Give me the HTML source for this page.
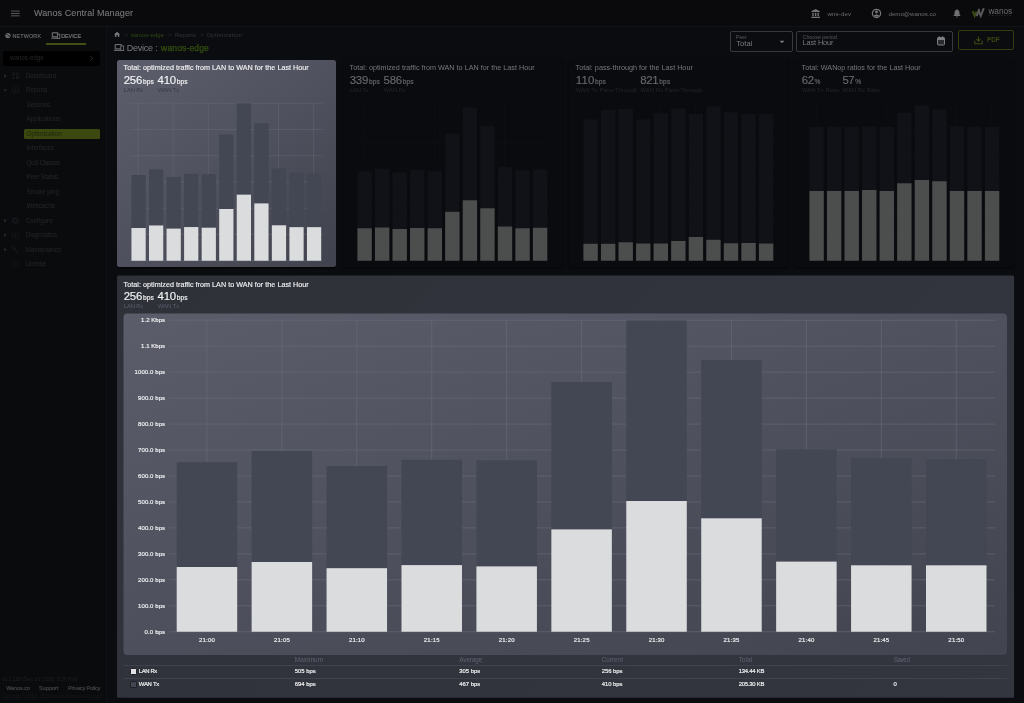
<!DOCTYPE html>
<html lang="en">
<head>
<meta charset="utf-8">
<title>Wanos Central Manager</title>
<style>
*{box-sizing:border-box;margin:0;padding:0}
html,body{width:1024px;height:703px;overflow:hidden;background:#0b0c10;font-family:"Liberation Sans",sans-serif;color:#888}
body{position:relative}
div{position:absolute;white-space:nowrap}
svg{position:absolute;left:0;top:0}
#topbar{left:0;top:0;width:1024px;height:27.4px;background:#0a0a0d;border-bottom:1px solid #121317}
#sidebar{left:0;top:27.4px;width:107px;height:676px;background:#0a0b0d;border-right:1px solid #111215}
.t{line-height:12px}
.brand{font-size:9px;color:#787878;-webkit-text-stroke:.1px #787878}
.tt{font-size:6.15px;color:#6e6e6e}
.tab{font-size:5.4px;-webkit-text-stroke:.15px}
.tabline{left:46px;top:43.3px;width:40.3px;height:1.5px;background:#424f12}
.search{left:3.1px;top:50.6px;width:96.9px;height:15px;background:#000;border-radius:2px}
.srch{font-size:6.3px;color:#26262b}
.nav{font-size:6.3px;color:#25262b}
.nav.sel{color:#1f260b}
.navsel{left:23.7px;width:76.1px;height:10px;background:#3b4810;border-radius:1.5px}
.navico rect{fill:#15161b}
.navico .ol{fill:none;stroke:#15161b;stroke-width:.8}
.navico .ol2{fill:none;stroke:#15161b;stroke-width:1.6}
.navico .ar{fill:#26282e}
.foot{font-size:5.6px;color:#1e1f25}
.footb{font-size:5.5px;color:#434345;-webkit-text-stroke:.2px}
.crumb{font-size:5.9px;color:#34353a}
.crumb.g{color:#2f4a10}
.crumb.s{color:#303136}
.title{font-size:9px;color:#78797d}
.title.g{color:#34500f;font-size:8.6px;-webkit-text-stroke:.25px #34500f}
.fld{border:1px solid #38393e;border-radius:2px;height:21.8px;top:30.5px}
.fl{font-size:5.4px;color:#55565a}
.fv{font-size:7.3px;color:#79797d}
.pdf{left:958.2px;top:30.2px;width:56px;height:19.5px;border:1px solid #333d0e;border-radius:2px}
.pdft{color:#3b4710;font-size:6.5px;font-weight:bold}
.card{top:59.5px;width:219px;height:207.5px;border-radius:2.5px}
.card.on{background:linear-gradient(140deg,#5c5e6c 0%,#4f515e 50%,#40434d 100%)}
.card.off{background:#0a0b0e;box-shadow:0 1px 3px rgba(0,0,0,.6)}
.ct{font-size:7.2px;color:#78797d}
.cv{font-size:11.4px;color:#67686c;line-height:14px;-webkit-text-stroke:.15px}
.cu{font-size:6.6px;color:#67686c;line-height:10px;-webkit-text-stroke:.15px}
.cl{font-size:5.9px;color:#24252a;line-height:8px}
.ct.on,.ct.pn{color:#f1f1f3;-webkit-text-stroke:.15px #f1f1f3}
.cv.on,.cu.on,.cv.pn,.cu.pn{color:#f4f4f6}
.cl.on{color:#393b45}
.cl.pn{color:#5a5d6b}
.grid line{stroke:#111217;stroke-width:.5}
.g1 .grid line{stroke:#6c6e7b;stroke-width:.4}
.hi rect{fill:#111217}
.lo rect{fill:#4c4e4d}
.g1 .hi rect{fill:#424753}
.g1 .lo rect{fill:#dbdcde}
#panel{left:117px;top:275.2px;width:897px;height:422.3px;background:linear-gradient(135deg,#2e3138 0%,#31343c 50%,#35383f 100%);border-radius:1.5px}
#cbox{left:123.5px;top:313.2px;width:883.5px;height:341.3px;border-radius:4px;background:linear-gradient(162deg,#5b5d6a 0%,#4e515d 50%,#42454f 100%)}
.mgrid line{stroke:#696c79;stroke-width:.6}
.mhi rect{fill:#424753}
.mlo rect{fill:#dbdcde}
.ax{font-size:6px;line-height:10px;color:#f0f0f2;-webkit-text-stroke:.18px #f0f0f2}
.lh{font-size:6.3px;line-height:8px;color:#606373}
.lr{font-size:5.9px;line-height:10px;color:#f0f0f2;-webkit-text-stroke:.18px #f0f0f2}
.sep{left:123.5px;width:883.5px;height:1px;background:#40434c}
.sw{left:130.3px;width:7.1px;height:7.4px;border-radius:1.3px;border:.8px solid #1d1f25}
</style>
</head>
<body>
<div id="topbar"></div>
<svg width="1024" height="27" viewBox="0 0 1024 27">
  <g fill="#727272"><rect x="11" y="10.7" width="8.6" height=".75"/><rect x="11" y="13.1" width="8.6" height=".75"/><rect x="11" y="15.5" width="8.6" height=".75"/></g>
  <g fill="#747474">
    <path d="M811.3 11.3 L815.6 8.9 L819.9 11.3 L819.9 12 L811.3 12 Z"/>
    <rect x="812.3" y="12.8" width="1.4" height="3.2"/><rect x="814.9" y="12.8" width="1.4" height="3.2"/><rect x="817.5" y="12.8" width="1.4" height="3.2"/>
    <rect x="811.3" y="16.7" width="8.6" height="1.3"/>
  </g>
  <circle cx="876.5" cy="13.4" r="4.1" fill="none" stroke="#747474" stroke-width="1.3"/>
  <circle cx="876.5" cy="12" r="1.4" fill="#787878"/>
  <path d="M873.7 15.7 Q876.5 13.5 879.3 15.7 Q876.5 17.8 873.7 15.7Z" fill="#787878"/>
  <path d="M953.6 16 L953.6 15.5 L954.5 14.6 L954.5 12.4 Q954.5 10.4 956.3 10 L956.3 9.6 Q957 9 957.7 9.6 L957.7 10 Q959.5 10.4 959.5 12.4 L959.5 14.6 L960.4 15.5 L960.4 16 Z M956.1 16.6 L957.9 16.6 Q957.9 17.6 957 17.6 Q956.1 17.6 956.1 16.6Z" fill="#707070"/>
  <g fill="none" stroke-width="2" stroke-linejoin="miter">
    <path d="M972.6 11.2 L974.6 15.9 L976.4 11.6" stroke="#3a4812"/>
    <path d="M976.6 16.2 L979.4 8.8" stroke="#5a5a5a"/>
    <path d="M978.8 11.2 L980.8 15.9 L983.8 8.2" stroke="#5a5a5a"/>
  </g>
</svg>
<div id="sidebar"></div>
<svg width="107" height="70" viewBox="0 0 107 70">
  <circle cx="7.9" cy="35.6" r="2.7" fill="#666"/>
  <path d="M6.2 34.6 Q7.6 34 8.2 35.4 Q9 36.6 10 36.2" stroke="#0a0b0d" stroke-width=".7" fill="none"/>
  <path d="M52.3 32.8 h5.6 v4 h-5.6 z M51.3 38.2 h6" fill="none" stroke="#7d7d7d" stroke-width="1"/>
  <rect x="57.3" y="34.2" width="2.5" height="4.3" fill="#0a0b0d" stroke="#7d7d7d" stroke-width=".8"/>
</svg>
<div class="tabline"></div>
<div class="search"></div>
<div class="t brand" style="left:34px;top:6.9px;letter-spacing:0.089px">Wanos Central Manager</div><div class="t tt" style="left:827.5px;top:7.5px;letter-spacing:0.121px">wns-dev</div><div class="t tt" style="left:888.5px;top:7.5px;letter-spacing:-0.004px">demo@wanos.co</div><div class="t" style="left:988.4px;top:4.6px;font-size:8.3px;color:#6c6c6c;letter-spacing:-0.046px">wanos</div><div class="t" style="left:988.8px;top:13.9px;font-size:2.4px;color:#454545;letter-spacing:1.22px;line-height:4px">NETWORKS</div><div class="t tab" style="left:12.5px;top:30px;color:#6c6c6c;letter-spacing:0.156px">NETWORK</div><div class="t tab" style="left:61.25px;top:30px;color:#7d7d7d;letter-spacing:-0.066px">DEVICE</div><div class="t srch" style="left:10px;top:52.2px;letter-spacing:-0.062px">wanos-edge</div>
<svg width="107" height="70" viewBox="0 0 107 70"><path d="M90.2 56.1 L92.6 58.4 L90.2 60.7" fill="none" stroke="#303035" stroke-width=".9"/></svg>
<svg class="navico" width="107" height="300" viewBox="0 0 107 300"><rect x="12.2" y="72.5" width="2.9" height="3.6"/><rect x="12.2" y="76.9" width="2.9" height="2.2"/><rect x="15.9" y="72.5" width="2.9" height="2.2"/><rect x="15.9" y="75.5" width="2.9" height="3.6"/><path class="ar" d="M4 73.9 L6.7 75.8 L4 77.7 Z"/><rect class="ol" x="12.3" y="86.8" width="6.2" height="6.2" rx=".6"/><rect x="13.8" y="89.3" width=".9" height="2.6"/><rect x="15" y="88.1" width=".9" height="3.8"/><rect x="16.2" y="90.1" width=".9" height="1.8"/><path class="ar" d="M3.4 89.2 L7.2 89.2 L5.3 91.4 Z"/><circle class="ol2" cx="15.4" cy="220.6" r="2.5"/><circle class="ol" cx="15.4" cy="220.6" r="1"/><path class="ar" d="M4 218.7 L6.7 220.6 L4 222.5 Z"/><rect class="ol" x="12.3" y="232" width="6.2" height="6.2" rx=".6"/><rect x="13.8" y="234.5" width=".9" height="2.6"/><rect x="15" y="233.3" width=".9" height="3.8"/><rect x="16.2" y="235.3" width=".9" height="1.8"/><path class="ar" d="M4 233.2 L6.7 235.1 L4 237 Z"/><path class="ol2" d="M12.6 247.1 L18.2 252.7"/><circle class="ol" cx="12.9" cy="247.3" r="1.4"/><path class="ar" d="M4 247.8 L6.7 249.7 L4 251.6 Z"/><rect x="12.4" y="261.1" width="1.3" height="1.3"/><rect x="12.4" y="263.4" width="1.3" height="1.3"/><rect x="12.4" y="265.7" width="1.3" height="1.3"/><rect x="14.7" y="261.1" width="1.3" height="1.3"/><rect x="14.7" y="263.4" width="1.3" height="1.3"/><rect x="14.7" y="265.7" width="1.3" height="1.3"/><rect x="17" y="261.1" width="1.3" height="1.3"/><rect x="17" y="263.4" width="1.3" height="1.3"/><rect x="17" y="265.7" width="1.3" height="1.3"/></svg>
<div class="t nav" style="left:25.7px;top:69.8px;letter-spacing:-0.014px">Dashboard</div><div class="t nav" style="left:25.7px;top:83.9px;letter-spacing:-0.077px">Reports</div><div class="t nav" style="left:26.5px;top:98.5px;letter-spacing:-0.295px">Sessions</div><div class="t nav" style="left:26.5px;top:113.1px;letter-spacing:-0.015px">Applications</div><div class="navsel" style="top:128.8px"></div><div class="t nav sel" style="left:26.5px;top:127.6px;letter-spacing:0.027px">Optimization</div><div class="t nav" style="left:26.5px;top:142.2px;letter-spacing:-0.040px">Interfaces</div><div class="t nav" style="left:26.5px;top:156.8px;letter-spacing:-0.325px">QoS Classes</div><div class="t nav" style="left:26.5px;top:171.3px;letter-spacing:-0.141px">Peer Status</div><div class="t nav" style="left:26.5px;top:185.8px;letter-spacing:-0.085px">Smoke ping</div><div class="t nav" style="left:26.5px;top:200.3px;letter-spacing:-0.163px">Webcache</div><div class="t nav" style="left:25.7px;top:214.6px;letter-spacing:-0.039px">Configure</div><div class="t nav" style="left:25.7px;top:229.1px;letter-spacing:-0.106px">Diagnostics</div><div class="t nav" style="left:25.7px;top:243.7px;letter-spacing:-0.031px">Maintenance</div><div class="t nav" style="left:25.7px;top:258.1px;letter-spacing:-0.245px">License</div>
<div class="t foot" style="left:1.9px;top:672.9px;letter-spacing:-0.253px">v1.1.118 (Sep 10, 2020, 5:36 PM)</div><div class="t footb" style="left:6.2px;top:681.7px;letter-spacing:-0.081px">Wanos.co</div><div class="t footb" style="left:39.1px;top:681.7px;letter-spacing:0.022px">Support</div><div class="t footb" style="left:68.1px;top:681.7px;letter-spacing:-0.156px">Privacy Policy</div><div class="t foot" style="left:1.9px;top:690.2px;font-size:5.2px;color:#17181d;letter-spacing:-0.383px">Copyright © 2013 - 2019 Wanos Networks Pty (Ltd)</div>
<svg width="140" height="60" viewBox="0 0 140 60">
  <path d="M114 34.6 L117.1 31.8 L120.2 34.6 L119.3 34.6 L119.3 37.1 L117.9 37.1 L117.9 35.3 L116.3 35.3 L116.3 37.1 L114.9 37.1 L114.9 34.6 Z" fill="#767676"/>
  <path d="M115.2 44.6 h6.2 v4.3 h-6.2 z M113.8 50.3 h7.6" fill="none" stroke="#78797d" stroke-width="1"/>
  <rect x="120.8" y="46" width="2.9" height="4.6" fill="#0b0c10" stroke="#78797d" stroke-width=".8"/>
</svg>
<div class="t crumb s" style="left:124.4px;top:28.9px">&gt;</div><div class="t crumb g" style="left:130.7px;top:28.9px;letter-spacing:0.134px">wanos-edge</div><div class="t crumb s" style="left:168.2px;top:28.9px">&gt;</div><div class="t crumb" style="left:174.9px;top:28.9px;letter-spacing:0.060px">Reports</div><div class="t crumb s" style="left:200.2px;top:28.9px">&gt;</div><div class="t crumb" style="left:206.4px;top:28.9px;letter-spacing:0.259px">Optimization</div><div class="t title" style="left:126.7px;top:41.5px;letter-spacing:-0.217px">Device :</div><div class="t title g" style="left:161.1px;top:41.5px;letter-spacing:0.097px">wanos-edge</div><div class="t fl" style="left:735.8px;top:31.2px;letter-spacing:-0.164px">Peer</div><div class="t fv" style="left:736.3px;top:38.1px;font-size:7.6px;letter-spacing:-0.012px">Total</div><div class="t fl" style="left:802.6px;top:31.2px;letter-spacing:-0.057px">Choose period</div><div class="t fv" style="left:802.6px;top:36.9px;letter-spacing:-0.105px">Last Hour</div><div class="t pdft" style="left:987px;top:34px;letter-spacing:-0.125px">PDF</div>
<div class="fld" style="left:730px;width:62.8px"></div>
<div class="fld" style="left:795.7px;width:157px"></div>
<div class="pdf"></div>
<svg width="1024" height="60" viewBox="0 0 1024 60">
  <path d="M779.5 40.8 L784.5 40.8 L782 43.3 Z" fill="#77787c"/>
  <rect x="937.5" y="37.6" width="7" height="7.4" rx="1" fill="#2a2b2f" stroke="#7d7e82" stroke-width="1"/>
  <rect x="937.5" y="37.6" width="7" height="2.4" fill="#7d7e82"/>
  <rect x="938.8" y="36.2" width="1" height="2" fill="#7d7e82"/><rect x="942.2" y="36.2" width="1" height="2" fill="#7d7e82"/>
  <path d="M978.5 36.4 v4.4 M976.5 39.2 L978.5 41.2 L980.5 39.2 M974.8 40.6 v3.2 h7.4 v-3.2" fill="none" stroke="#3d4911" stroke-width="1.1"/>
</svg>
<svg width="1024" height="703" viewBox="0 0 1024 703"><defs><linearGradient id="g1" gradientUnits="userSpaceOnUse" x1="130.29" y1="48.75" x2="322.71" y2="278.05"><stop offset="0" stop-color="#5c5e6c"/><stop offset="0.5" stop-color="#4f515e"/><stop offset="1" stop-color="#40434d"/></linearGradient></defs><rect x="117" y="61.5" width="219" height="207" rx="2.5" fill="#050508"/><rect x="117" y="59.9" width="219" height="207" rx="2.5" fill="url(#g1)"/></svg>
<div class="card off" style="left:343px"></div>
<div class="card off" style="left:569px"></div>
<div class="card off" style="left:795px"></div>
<svg width="1024" height="703" viewBox="0 0 1024 703">
<g class="g1">
<g class="grid">
<line x1="129.65" y1="103.25" x2="322.7" y2="103.25"/>
<line x1="129.65" y1="129.5" x2="322.7" y2="129.5"/>
<line x1="129.65" y1="155.75" x2="322.7" y2="155.75"/>
<line x1="129.65" y1="182" x2="322.7" y2="182"/>
<line x1="129.65" y1="208.25" x2="322.7" y2="208.25"/>
<line x1="129.65" y1="234.5" x2="322.7" y2="234.5"/>
<line x1="129.65" y1="260.75" x2="322.7" y2="260.75"/>
<line x1="138.17" y1="103.25" x2="138.17" y2="260.75"/>
<line x1="173.27" y1="103.25" x2="173.27" y2="260.75"/>
<line x1="208.37" y1="103.25" x2="208.37" y2="260.75"/>
<line x1="243.47" y1="103.25" x2="243.47" y2="260.75"/>
<line x1="278.58" y1="103.25" x2="278.58" y2="260.75"/>
<line x1="313.68" y1="103.25" x2="313.68" y2="260.75"/>
</g>
<g class="hi">
<rect x="131.45" y="175.02" width="14.25" height="52.99"/>
<rect x="149" y="169.36" width="14.25" height="56.12"/>
<rect x="166.55" y="176.94" width="14.25" height="51.67"/>
<rect x="184.1" y="173.81" width="14.25" height="53.24"/>
<rect x="201.65" y="174.11" width="14.25" height="53.6"/>
<rect x="219.2" y="134.52" width="14.25" height="74.48"/>
<rect x="236.75" y="103.38" width="14.25" height="91.26"/>
<rect x="254.3" y="123.35" width="14.25" height="80.04"/>
<rect x="271.85" y="168.5" width="14.25" height="56.78"/>
<rect x="289.4" y="172.9" width="14.25" height="54.25"/>
<rect x="306.95" y="173.51" width="14.25" height="53.65"/>
</g><g class="lo">
<rect x="131.45" y="228.01" width="14.25" height="32.74"/>
<rect x="149" y="225.48" width="14.25" height="35.27"/>
<rect x="166.55" y="228.62" width="14.25" height="32.13"/>
<rect x="184.1" y="227.05" width="14.25" height="33.7"/>
<rect x="201.65" y="227.71" width="14.25" height="33.04"/>
<rect x="219.2" y="209" width="14.25" height="51.75"/>
<rect x="236.75" y="194.64" width="14.25" height="66.11"/>
<rect x="254.3" y="203.39" width="14.25" height="57.36"/>
<rect x="271.85" y="225.28" width="14.25" height="35.47"/>
<rect x="289.4" y="227.15" width="14.25" height="33.6"/>
<rect x="306.95" y="227.15" width="14.25" height="33.6"/>
</g>
</g>
<g>
<g class="grid">
<line x1="355.6" y1="103.25" x2="548.8" y2="103.25"/>
<line x1="355.6" y1="122.94" x2="548.8" y2="122.94"/>
<line x1="355.6" y1="142.62" x2="548.8" y2="142.62"/>
<line x1="355.6" y1="162.31" x2="548.8" y2="162.31"/>
<line x1="355.6" y1="182" x2="548.8" y2="182"/>
<line x1="355.6" y1="201.69" x2="548.8" y2="201.69"/>
<line x1="355.6" y1="221.38" x2="548.8" y2="221.38"/>
<line x1="355.6" y1="241.06" x2="548.8" y2="241.06"/>
<line x1="355.6" y1="260.75" x2="548.8" y2="260.75"/>
<line x1="364.2" y1="103.25" x2="364.2" y2="260.75"/>
<line x1="399.3" y1="103.25" x2="399.3" y2="260.75"/>
<line x1="434.4" y1="103.25" x2="434.4" y2="260.75"/>
<line x1="469.5" y1="103.25" x2="469.5" y2="260.75"/>
<line x1="504.6" y1="103.25" x2="504.6" y2="260.75"/>
<line x1="539.7" y1="103.25" x2="539.7" y2="260.75"/>
</g>
<g class="hi">
<rect x="357.4" y="171.25" width="14.4" height="57"/>
<rect x="374.95" y="168.75" width="14.4" height="58.75"/>
<rect x="392.5" y="172.5" width="14.4" height="56.5"/>
<rect x="410.05" y="170" width="14.4" height="58"/>
<rect x="427.6" y="171.25" width="14.4" height="57"/>
<rect x="445.15" y="133.5" width="14.4" height="78.25"/>
<rect x="462.7" y="107.5" width="14.4" height="92.75"/>
<rect x="480.25" y="125.75" width="14.4" height="82.5"/>
<rect x="497.8" y="167" width="14.4" height="59.5"/>
<rect x="515.35" y="170.25" width="14.4" height="58"/>
<rect x="532.9" y="169.5" width="14.4" height="58.25"/>
</g><g class="lo">
<rect x="357.4" y="228.25" width="14.4" height="32.5"/>
<rect x="374.95" y="227.5" width="14.4" height="33.25"/>
<rect x="392.5" y="229" width="14.4" height="31.75"/>
<rect x="410.05" y="228" width="14.4" height="32.75"/>
<rect x="427.6" y="228.25" width="14.4" height="32.5"/>
<rect x="445.15" y="211.75" width="14.4" height="49"/>
<rect x="462.7" y="200.25" width="14.4" height="60.5"/>
<rect x="480.25" y="208.25" width="14.4" height="52.5"/>
<rect x="497.8" y="226.5" width="14.4" height="34.25"/>
<rect x="515.35" y="228.25" width="14.4" height="32.5"/>
<rect x="532.9" y="227.75" width="14.4" height="33"/>
</g>
</g>
<g>
<g class="grid">
<line x1="581.6" y1="103.25" x2="774.8" y2="103.25"/>
<line x1="581.6" y1="122.94" x2="774.8" y2="122.94"/>
<line x1="581.6" y1="142.62" x2="774.8" y2="142.62"/>
<line x1="581.6" y1="162.31" x2="774.8" y2="162.31"/>
<line x1="581.6" y1="182" x2="774.8" y2="182"/>
<line x1="581.6" y1="201.69" x2="774.8" y2="201.69"/>
<line x1="581.6" y1="221.38" x2="774.8" y2="221.38"/>
<line x1="581.6" y1="241.06" x2="774.8" y2="241.06"/>
<line x1="581.6" y1="260.75" x2="774.8" y2="260.75"/>
<line x1="590.2" y1="103.25" x2="590.2" y2="260.75"/>
<line x1="625.3" y1="103.25" x2="625.3" y2="260.75"/>
<line x1="660.4" y1="103.25" x2="660.4" y2="260.75"/>
<line x1="695.5" y1="103.25" x2="695.5" y2="260.75"/>
<line x1="730.6" y1="103.25" x2="730.6" y2="260.75"/>
<line x1="765.7" y1="103.25" x2="765.7" y2="260.75"/>
</g>
<g class="hi">
<rect x="583.4" y="119.25" width="14.4" height="124.5"/>
<rect x="600.95" y="110" width="14.4" height="133.75"/>
<rect x="618.5" y="109" width="14.4" height="133.25"/>
<rect x="636.05" y="119.25" width="14.4" height="124.25"/>
<rect x="653.6" y="113.25" width="14.4" height="130.25"/>
<rect x="671.15" y="108.5" width="14.4" height="132.5"/>
<rect x="688.7" y="114" width="14.4" height="123"/>
<rect x="706.25" y="106.5" width="14.4" height="133.25"/>
<rect x="723.8" y="112.25" width="14.4" height="131"/>
<rect x="741.35" y="114" width="14.4" height="129"/>
<rect x="758.9" y="114" width="14.4" height="129.5"/>
</g><g class="lo">
<rect x="583.4" y="243.75" width="14.4" height="17"/>
<rect x="600.95" y="243.75" width="14.4" height="17"/>
<rect x="618.5" y="242.25" width="14.4" height="18.5"/>
<rect x="636.05" y="243.5" width="14.4" height="17.25"/>
<rect x="653.6" y="243.5" width="14.4" height="17.25"/>
<rect x="671.15" y="241" width="14.4" height="19.75"/>
<rect x="688.7" y="237" width="14.4" height="23.75"/>
<rect x="706.25" y="239.75" width="14.4" height="21"/>
<rect x="723.8" y="243.25" width="14.4" height="17.5"/>
<rect x="741.35" y="243" width="14.4" height="17.75"/>
<rect x="758.9" y="243.5" width="14.4" height="17.25"/>
</g>
</g>
<g>
<g class="grid">
<line x1="807.6" y1="103.25" x2="1000.8" y2="103.25"/>
<line x1="807.6" y1="129.5" x2="1000.8" y2="129.5"/>
<line x1="807.6" y1="155.75" x2="1000.8" y2="155.75"/>
<line x1="807.6" y1="182" x2="1000.8" y2="182"/>
<line x1="807.6" y1="208.25" x2="1000.8" y2="208.25"/>
<line x1="807.6" y1="234.5" x2="1000.8" y2="234.5"/>
<line x1="807.6" y1="260.75" x2="1000.8" y2="260.75"/>
<line x1="816.2" y1="103.25" x2="816.2" y2="260.75"/>
<line x1="851.3" y1="103.25" x2="851.3" y2="260.75"/>
<line x1="886.4" y1="103.25" x2="886.4" y2="260.75"/>
<line x1="921.5" y1="103.25" x2="921.5" y2="260.75"/>
<line x1="956.6" y1="103.25" x2="956.6" y2="260.75"/>
<line x1="991.7" y1="103.25" x2="991.7" y2="260.75"/>
</g>
<g class="hi">
<rect x="809.4" y="126.75" width="14.4" height="64.25"/>
<rect x="826.95" y="126.75" width="14.4" height="64.25"/>
<rect x="844.5" y="126.75" width="14.4" height="64.25"/>
<rect x="862.05" y="126.25" width="14.4" height="63.75"/>
<rect x="879.6" y="126.75" width="14.4" height="64.25"/>
<rect x="897.15" y="112.75" width="14.4" height="70.5"/>
<rect x="914.7" y="105.5" width="14.4" height="74.5"/>
<rect x="932.25" y="109.25" width="14.4" height="72"/>
<rect x="949.8" y="126.25" width="14.4" height="64.75"/>
<rect x="967.35" y="126.75" width="14.4" height="64.25"/>
<rect x="984.9" y="126.75" width="14.4" height="64.25"/>
</g><g class="lo">
<rect x="809.4" y="191" width="14.4" height="69.75"/>
<rect x="826.95" y="191" width="14.4" height="69.75"/>
<rect x="844.5" y="191" width="14.4" height="69.75"/>
<rect x="862.05" y="190" width="14.4" height="70.75"/>
<rect x="879.6" y="191" width="14.4" height="69.75"/>
<rect x="897.15" y="183.25" width="14.4" height="77.5"/>
<rect x="914.7" y="180" width="14.4" height="80.75"/>
<rect x="932.25" y="181.25" width="14.4" height="79.5"/>
<rect x="949.8" y="191" width="14.4" height="69.75"/>
<rect x="967.35" y="191" width="14.4" height="69.75"/>
<rect x="984.9" y="191" width="14.4" height="69.75"/>
</g>
</g>
</svg>
<div class="t ct on" style="left:123.6px;top:61.9px;letter-spacing:0.025px">Total: optimized traffic from LAN to WAN for the Last Hour</div><div class="t cv on" style="left:123.8px;top:73.1px;letter-spacing:-0.258px">256</div><div class="t cu on" style="left:142.9px;top:77px;letter-spacing:0.130px">bps</div><div class="t cv on" style="left:157.6px;top:73.1px;letter-spacing:-0.258px">410</div><div class="t cu on" style="left:176.7px;top:77px;letter-spacing:0.130px">bps</div><div class="t cl on" style="left:123.8px;top:85.7px;letter-spacing:-0.179px">LAN Rx</div><div class="t cl on" style="left:157.8px;top:85.7px;letter-spacing:-0.022px">WAN Tx</div><div class="t ct " style="left:349.6px;top:61.9px;letter-spacing:0.022px">Total: optimized traffic from WAN to LAN for the Last Hour</div><div class="t cv " style="left:349.8px;top:73.1px;letter-spacing:-0.258px">339</div><div class="t cu " style="left:368.9px;top:77px;letter-spacing:0.130px">bps</div><div class="t cv " style="left:383.6px;top:73.1px;letter-spacing:-0.258px">586</div><div class="t cu " style="left:402.7px;top:77px;letter-spacing:0.130px">bps</div><div class="t cl " style="left:349.8px;top:85.7px;letter-spacing:-0.109px">LAN Tx</div><div class="t cl " style="left:383.8px;top:85.7px;letter-spacing:-0.075px">WAN Rx</div><div class="t ct " style="left:575.6px;top:61.9px;letter-spacing:0.015px">Total: pass-through for the Last Hour</div><div class="t cv " style="left:575.8px;top:73.1px;letter-spacing:0.164px">110</div><div class="t cu " style="left:594.9px;top:77px;letter-spacing:0.130px">bps</div><div class="t cv " style="left:640.2px;top:73.1px;letter-spacing:-0.258px">821</div><div class="t cu " style="left:659.3px;top:77px;letter-spacing:0.130px">bps</div><div class="t cl " style="left:575.8px;top:85.7px;letter-spacing:0.070px">WAN Tx Pass-Through</div><div class="t cl " style="left:640.4px;top:85.7px;letter-spacing:0.067px">WAN Rx Pass-Through</div><div class="t ct " style="left:801.6px;top:61.9px;letter-spacing:0.006px">Total: WANop ratios for the Last Hour</div><div class="t cv " style="left:801.8px;top:73.1px;letter-spacing:-0.472px">62</div><div class="t cu " style="left:814.6px;top:77px;letter-spacing:-0.875px">%</div><div class="t cv " style="left:842.4px;top:73.1px;letter-spacing:-0.472px">57</div><div class="t cu " style="left:855.2px;top:77px;letter-spacing:-0.875px">%</div><div class="t cl " style="left:801.8px;top:85.7px;letter-spacing:0.064px">WAN Tx Ratio</div><div class="t cl " style="left:842.6px;top:85.7px;letter-spacing:-0.023px">WAN Rx Ratio</div>
<svg width="1024" height="703" viewBox="0 0 1024 703"><defs><linearGradient id="g2" gradientUnits="userSpaceOnUse" x1="235.69" y1="156.81" x2="895.36" y2="816.49"><stop offset="0" stop-color="#2e3138"/><stop offset="0.5" stop-color="#31343c"/><stop offset="1" stop-color="#33363e"/></linearGradient></defs><rect x="117" y="275.5" width="897.05" height="422.3" rx="1.5" fill="url(#g2)"/></svg>
<svg width="1024" height="703" viewBox="0 0 1024 703"><defs><linearGradient id="g3" gradientUnits="userSpaceOnUse" x1="472.88" y1="199.98" x2="657.62" y2="768.52"><stop offset="0" stop-color="#5b5d6a"/><stop offset="0.5" stop-color="#4e515d"/><stop offset="1" stop-color="#42454f"/></linearGradient></defs><rect x="123.5" y="313.5" width="883.5" height="341.5" rx="4" fill="url(#g3)"/></svg>
<svg width="1024" height="703" viewBox="0 0 1024 703">
<g class="mgrid">
<line x1="169" y1="320.25" x2="995" y2="320.25"/>
<line x1="169" y1="346.21" x2="995" y2="346.21"/>
<line x1="169" y1="372.17" x2="995" y2="372.17"/>
<line x1="169" y1="398.12" x2="995" y2="398.12"/>
<line x1="169" y1="424.08" x2="995" y2="424.08"/>
<line x1="169" y1="450.04" x2="995" y2="450.04"/>
<line x1="169" y1="476" x2="995" y2="476"/>
<line x1="169" y1="501.96" x2="995" y2="501.96"/>
<line x1="169" y1="527.92" x2="995" y2="527.92"/>
<line x1="169" y1="553.88" x2="995" y2="553.88"/>
<line x1="169" y1="579.83" x2="995" y2="579.83"/>
<line x1="169" y1="605.79" x2="995" y2="605.79"/>
<line x1="169" y1="631.75" x2="995" y2="631.75"/>
<line x1="206.95" y1="320.25" x2="206.95" y2="631.75"/>
<line x1="281.88" y1="320.25" x2="281.88" y2="631.75"/>
<line x1="356.81" y1="320.25" x2="356.81" y2="631.75"/>
<line x1="431.74" y1="320.25" x2="431.74" y2="631.75"/>
<line x1="506.67" y1="320.25" x2="506.67" y2="631.75"/>
<line x1="581.6" y1="320.25" x2="581.6" y2="631.75"/>
<line x1="656.53" y1="320.25" x2="656.53" y2="631.75"/>
<line x1="731.46" y1="320.25" x2="731.46" y2="631.75"/>
<line x1="806.39" y1="320.25" x2="806.39" y2="631.75"/>
<line x1="881.32" y1="320.25" x2="881.32" y2="631.75"/>
<line x1="956.25" y1="320.25" x2="956.25" y2="631.75"/>
</g><g class="mhi">
<rect x="176.7" y="462.2" width="60.5" height="104.8"/>
<rect x="251.63" y="451" width="60.5" height="111"/>
<rect x="326.56" y="466" width="60.5" height="102.2"/>
<rect x="401.49" y="459.8" width="60.5" height="105.3"/>
<rect x="476.42" y="460.4" width="60.5" height="106"/>
<rect x="551.35" y="382.1" width="60.5" height="147.3"/>
<rect x="626.28" y="320.5" width="60.5" height="180.5"/>
<rect x="701.21" y="360" width="60.5" height="158.3"/>
<rect x="776.14" y="449.3" width="60.5" height="112.3"/>
<rect x="851.07" y="458" width="60.5" height="107.3"/>
<rect x="926" y="459.2" width="60.5" height="106.1"/>
</g><g class="mlo">
<rect x="176.7" y="567" width="60.5" height="64.75"/>
<rect x="251.63" y="562" width="60.5" height="69.75"/>
<rect x="326.56" y="568.2" width="60.5" height="63.55"/>
<rect x="401.49" y="565.1" width="60.5" height="66.65"/>
<rect x="476.42" y="566.4" width="60.5" height="65.35"/>
<rect x="551.35" y="529.4" width="60.5" height="102.35"/>
<rect x="626.28" y="501" width="60.5" height="130.75"/>
<rect x="701.21" y="518.3" width="60.5" height="113.45"/>
<rect x="776.14" y="561.6" width="60.5" height="70.15"/>
<rect x="851.07" y="565.3" width="60.5" height="66.45"/>
<rect x="926" y="565.3" width="60.5" height="66.45"/>
</g>
</svg>
<div class="t ct pn" style="left:123.6px;top:278.5px;letter-spacing:0.025px">Total: optimized traffic from LAN to WAN for the Last Hour</div><div class="t cv pn" style="left:123.8px;top:289.1px;letter-spacing:-0.258px">256</div><div class="t cu pn" style="left:142.9px;top:293px;letter-spacing:0.130px">bps</div><div class="t cv pn" style="left:157.6px;top:289.1px;letter-spacing:-0.258px">410</div><div class="t cu pn" style="left:176.7px;top:293px;letter-spacing:0.130px">bps</div><div class="t cl pn" style="left:123.8px;top:301.7px;letter-spacing:-0.179px">LAN Rx</div><div class="t cl pn" style="left:157.8px;top:301.7px;letter-spacing:-0.022px">WAN Tx</div>
<div class="t ax" style="left:141.1px;top:315.05px;letter-spacing:0.045px">1.2 Kbps</div><div class="t ax" style="left:141.1px;top:341.01px;letter-spacing:0.045px">1.1 Kbps</div><div class="t ax" style="left:134.6px;top:366.97px;letter-spacing:0.089px">1000.0 bps</div><div class="t ax" style="left:138.1px;top:392.92px;letter-spacing:0.080px">900.0 bps</div><div class="t ax" style="left:138.1px;top:418.88px;letter-spacing:0.080px">800.0 bps</div><div class="t ax" style="left:138.1px;top:444.84px;letter-spacing:0.080px">700.0 bps</div><div class="t ax" style="left:138.1px;top:470.8px;letter-spacing:0.080px">600.0 bps</div><div class="t ax" style="left:138.1px;top:496.76px;letter-spacing:0.080px">500.0 bps</div><div class="t ax" style="left:138.1px;top:522.71px;letter-spacing:0.080px">400.0 bps</div><div class="t ax" style="left:138.1px;top:548.67px;letter-spacing:0.080px">300.0 bps</div><div class="t ax" style="left:138.1px;top:574.63px;letter-spacing:0.080px">200.0 bps</div><div class="t ax" style="left:138.1px;top:600.59px;letter-spacing:0.080px">100.0 bps</div><div class="t ax" style="left:144.6px;top:626.55px;letter-spacing:0.135px">0.0 bps</div>
<div class="t ax" style="left:199.05px;top:635px;letter-spacing:0.196px">21:00</div><div class="t ax" style="left:273.98px;top:635px;letter-spacing:0.196px">21:05</div><div class="t ax" style="left:348.91px;top:635px;letter-spacing:0.196px">21:10</div><div class="t ax" style="left:423.84px;top:635px;letter-spacing:0.196px">21:15</div><div class="t ax" style="left:498.77px;top:635px;letter-spacing:0.196px">21:20</div><div class="t ax" style="left:573.7px;top:635px;letter-spacing:0.196px">21:25</div><div class="t ax" style="left:648.63px;top:635px;letter-spacing:0.196px">21:30</div><div class="t ax" style="left:723.56px;top:635px;letter-spacing:0.196px">21:35</div><div class="t ax" style="left:798.49px;top:635px;letter-spacing:0.196px">21:40</div><div class="t ax" style="left:873.42px;top:635px;letter-spacing:0.196px">21:45</div><div class="t ax" style="left:948.35px;top:635px;letter-spacing:0.196px">21:50</div>
<div class="sep" style="top:665px"></div>
<div class="sep" style="top:678px"></div>
<div class="sw" style="top:668.1px;background:#e2e2e4"></div>
<div class="sw" style="top:681.1px;background:#424653"></div>
<div class="t lh" style="left:294.8px;top:655.6px;letter-spacing:0.151px">Maximum</div><div class="t lh" style="left:459.3px;top:655.6px;letter-spacing:-0.074px">Average</div><div class="t lh" style="left:601.7px;top:655.6px;letter-spacing:0.033px">Current</div><div class="t lh" style="left:738.7px;top:655.6px;letter-spacing:0.022px">Total</div><div class="t lh" style="left:893.7px;top:655.6px;letter-spacing:-0.390px">Saved</div><div class="t lr" style="left:138.8px;top:666.2px;letter-spacing:-0.359px">LAN Rx</div><div class="t lr" style="left:294.8px;top:666.2px;letter-spacing:0.005px">505 bps</div><div class="t lr" style="left:459.3px;top:666.2px;letter-spacing:-0.028px">305 bps</div><div class="t lr" style="left:601.7px;top:666.2px;letter-spacing:-0.028px">256 bps</div><div class="t lr" style="left:738.7px;top:666.2px;letter-spacing:-0.227px">134.44 KB</div><div class="t lr" style="left:138.8px;top:678.8px;letter-spacing:-0.222px">WAN Tx</div><div class="t lr" style="left:294.8px;top:678.8px;letter-spacing:0.005px">694 bps</div><div class="t lr" style="left:459.3px;top:678.8px;letter-spacing:-0.028px">467 bps</div><div class="t lr" style="left:601.7px;top:678.8px;letter-spacing:-0.028px">410 bps</div><div class="t lr" style="left:738.7px;top:678.8px;letter-spacing:-0.227px">205.30 KB</div><div class="t lr" style="left:893.6px;top:678.8px">0</div>
</body>
</html>
